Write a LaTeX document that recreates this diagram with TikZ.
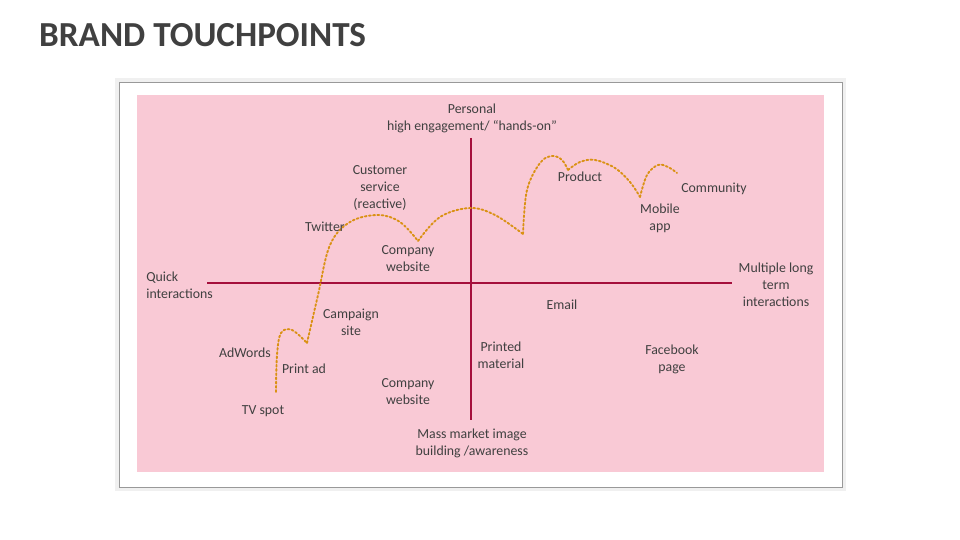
\documentclass[tikz,border=0pt]{standalone}
\usepackage{fontspec}
\setmainfont{Carlito}
\definecolor{axc}{RGB}{165,15,60}
\definecolor{dotc}{RGB}{218,145,20}
\definecolor{pinkbg}{RGB}{249,201,213}
\begin{document}
\begin{tikzpicture}[x=0.03cm,y=-0.03cm,
  lbl/.style={text=black!75,font=\fontsize{11.8}{14.5}\selectfont,align=center,inner sep=1pt},
  ax/.style={draw=axc,line width=1.3pt},
  path1/.style={draw=dotc,line width=1.6pt,dotted,line cap=round}]
\useasboundingbox (0,0) rectangle (960,540);
\node[anchor=west,font=\bfseries\fontsize{30}{34}\selectfont,text=black!75,inner sep=0pt] (title) at (39,35) {BRAND TOUCHPOINTS};
\fill[black!6] (115,78) rectangle (846,491);
\draw[black!40,fill=white,line width=0.8pt] (119,82) rectangle (842,487);
\fill[pinkbg] (137,95) rectangle (824,472);
\coordinate (L) at (207,283); \coordinate (R) at (732,283);
\coordinate (T) at (471,138); \coordinate (B) at (471,420);
\draw[ax] (L) -- (R); \draw[ax] (T) -- (B);
\draw[path1] plot[smooth,tension=0.6] coordinates {(276,392)(277,355)(281,333)(292,330)(307,343)}
  plot[smooth,tension=0.6] coordinates {(307,343)(318,295)(330,245)(350,222)(378,215)(400,222)(418,241)}
  plot[smooth,tension=0.6] coordinates {(418,241)(440,217)(470,208)(495,215)(523,234)}
  plot[smooth,tension=0.6] coordinates {(523,234)(527,190)(540,163)(552,156)(562,160)(568,170)}
  plot[smooth,tension=0.6] coordinates {(568,170)(580,162)(595,160)(615,168)(630,182)(640,197)}
  plot[smooth,tension=0.6] coordinates {(640,197)(647,175)(658,165)(668,167)(677,173)};
\node[lbl] (pers) at (472,118) {Personal\\high engagement/ “hands-on”};
\node[lbl] (mass) at (472,443) {Mass market image\\building /awareness};
\node[lbl,align=left,anchor=west] (quick) at (145,285) {Quick\\interactions};
\node[lbl] (multi) at (776,285) {Multiple long\\term\\interactions};
\node[lbl] (cs) at (380,188) {Customer\\service\\(reactive)};
\node[lbl] (tw) at (325,227) {Twitter};
\node[lbl] (cw1) at (408,259) {Company\\website};
\node[lbl] (prod) at (580,177) {Product};
\node[lbl] (comm) at (714,189) {Community};
\node[lbl] (mob) at (660,218) {Mobile\\app};
\node[lbl] (email) at (562,305) {Email};
\node[lbl] (camp) at (351,322) {Campaign\\site};
\node[lbl] (adw) at (245,353) {AdWords};
\node[lbl] (pad) at (304,369) {Print ad};
\node[lbl] (tv) at (263,411) {TV spot};
\node[lbl] (cw2) at (408,392) {Company\\website};
\node[lbl] (pm) at (501,355) {Printed\\material};
\node[lbl] (fb) at (672,359) {Facebook\\page};
\end{tikzpicture}
\end{document}
